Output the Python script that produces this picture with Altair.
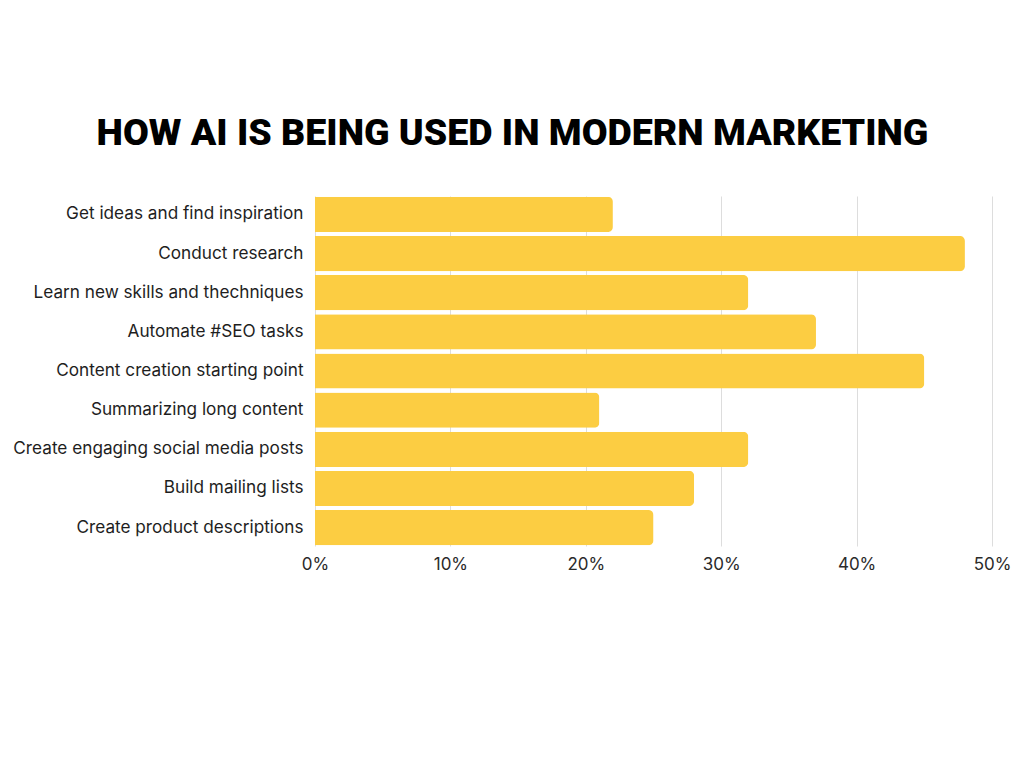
import altair as alt
import pandas as pd

categories = [
    "Get ideas and find inspiration",
    "Conduct research",
    "Learn new skills and thechniques",
    "Automate #SEO tasks",
    "Content creation starting point",
    "Summarizing long content",
    "Create engaging social media posts",
    "Build mailing lists",
    "Create product descriptions",
]
values = [22, 48, 32, 37, 45, 21, 32, 28, 25]

df = pd.DataFrame({"task": categories, "pct": [v / 100 for v in values]})

chart = alt.Chart(df).mark_bar(
    color="#FCCD42", cornerRadiusEnd=5
).encode(
    y=alt.Y("task:N", sort=None, title=None,
            scale=alt.Scale(paddingInner=0.1, paddingOuter=0.02),
            axis=alt.Axis(labelFont="Inter", labelFontSize=17.2, labelColor="#1e1e1e",
                          labelPadding=12, ticks=False, domain=False, labelLimit=400)),
    x=alt.X("pct:Q", title=None,
            scale=alt.Scale(domain=[0, 0.5], nice=False),
            axis=alt.Axis(format=".0%", values=[0, 0.1, 0.2, 0.3, 0.4, 0.5],
                          labelFont="Inter", labelFontSize=17, labelColor="#2a2a2a",
                          labelPadding=10, ticks=False, domain=False, labelFlush=False,
                          grid=True, gridColor="#dddddd", gridWidth=1)),
).properties(
    width=677, height=350,
    background="white",
    title=alt.TitleParams(
        "HOW AI IS BEING USED IN MODERN MARKETING",
        font="Roboto", fontSize=37.5, fontWeight=900, color="#000000",
        anchor="middle", dx=-141, offset=44,
    ),
    autosize=alt.AutoSizeParams(type="none"),
    padding={"left": 315, "top": 196, "right": 32, "bottom": 222},
).configure_view(stroke=None)

chart.save("out.html", embed_options={"renderer": "svg", "actions": False})
